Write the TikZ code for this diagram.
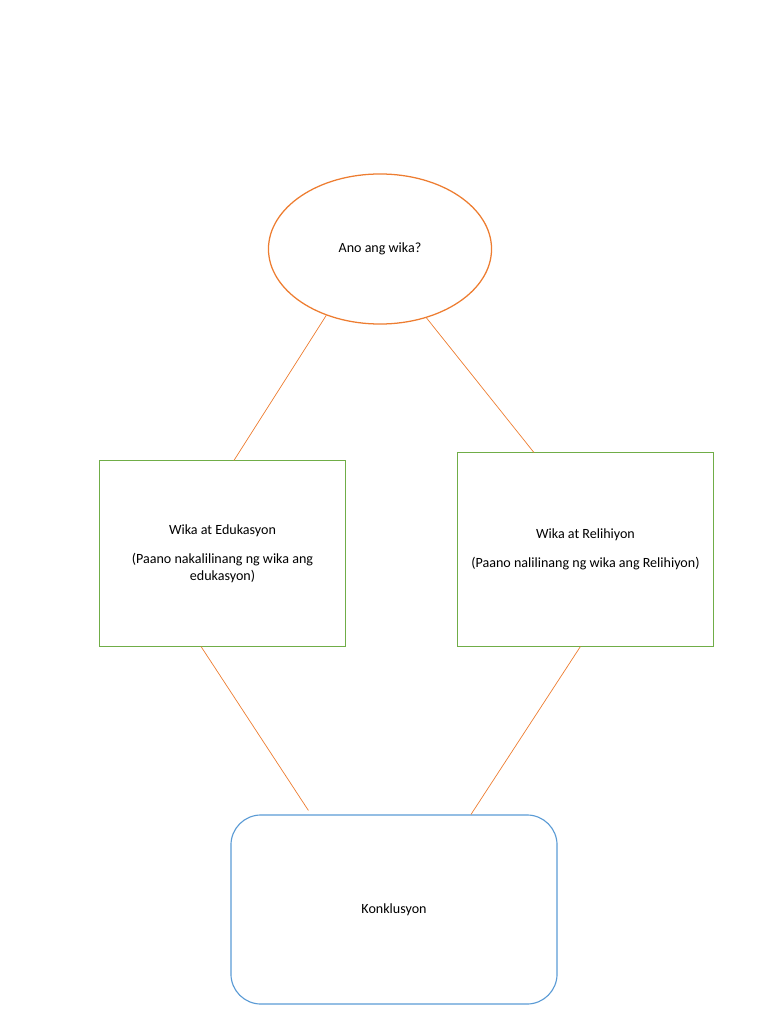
\documentclass[tikz,border=0pt]{standalone}
\usepackage{fontspec}
\setmainfont{Carlito}
\usepackage{tikz}
\usetikzlibrary{shapes,positioning,calc}
\definecolor{ornge}{RGB}{237,125,49}
\definecolor{grn}{RGB}{112,173,71}
\definecolor{blu}{RGB}{91,155,213}

\begin{document}
\begin{tikzpicture}[x=0.025cm,y=0.025cm,
		font=\fontsize{10}{12}\selectfont,
		qbox/.style={ellipse, draw=ornge, line width=0.9pt, minimum width=5.575cm, minimum height=3.75cm, inner sep=0pt},
		topic/.style={rectangle, draw=grn, line width=0.7pt, align=center, inner sep=0pt},
		endbox/.style={rectangle, rounded corners=0.75cm, draw=blu, line width=0.8pt, minimum width=8.15cm, minimum height=4.725cm, inner sep=0pt},
		link/.style={ornge, line width=0.5pt}]
		\useasboundingbox (0,0) rectangle (768,-1024);
		\node[qbox] (ano) at (380,-249) {Ano ang wika?};
		\node[topic, minimum width=6.125cm, minimum height=4.625cm] (edu) at (222.5,-553.5)
			{Wika at Edukasyon\\[9pt](Paano nakalilinang ng wika ang\\edukasyon)};
		\node[topic, minimum width=6.375cm, minimum height=4.825cm] (rel) at (585.5,-549.5)
			{Wika at Relihiyon\\[9pt](Paano nalilinang ng wika ang Relihiyon)};
		\node[endbox] (konk) at (394,-909.5) {Konklusyon};
		% mga linya
		\draw[link] (ano.231) -- (edu.83);
		\draw[link] (ano.304) -- (rel.118);
		\draw[link] (edu.257) -- ([yshift=0.1cm]konk.132);
		\draw[link] (rel.267) -- (konk.51);
\end{tikzpicture}
\end{document}
